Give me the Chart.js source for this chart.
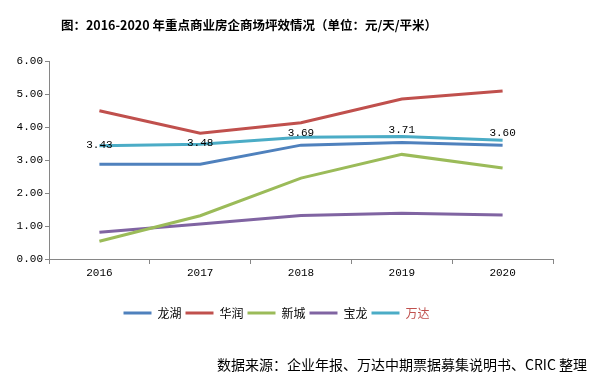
<!DOCTYPE html>
<html>
<head>
<meta charset="utf-8">
<script src="https://cdn.jsdelivr.net/npm/chart.js@4/dist/chart.umd.min.js"></script>
<style>
  body { margin: 0; background: #fff; }
  #wrap { width: 590px; height: 377px; position: relative; }
</style>
</head>
<body>
<div id="wrap"><canvas id="pingxiao-chart" width="590" height="377"></canvas></div>
<script>
const years = ["2016", "2017", "2018", "2019", "2020"];
const longhu = [2.87, 2.87, 3.45, 3.53, 3.45];
const huarun = [4.49, 3.81, 4.13, 4.85, 5.09];
const xincheng = [0.54, 1.31, 2.45, 3.17, 2.76];
const baolong = [0.81, 1.06, 1.32, 1.39, 1.33];
const wanda = [3.43, 3.48, 3.69, 3.71, 3.60];

const titleText = "图：2016-2020 年重点商业房企商场坪效情况（单位：元/天/平米）";
const sourceText = "数据来源：企业年报、万达中期票据募集说明书、CRIC 整理";

const monoFont = "'Liberation Mono', 'DejaVu Sans Mono', monospace";
const cjkFont = "'Noto Sans CJK SC', sans-serif";

// title, source note and the 万达 value labels
const notes = {
  id: "notes",
  afterDraw(chart) {
    const ctx = chart.ctx;
    ctx.save();
    ctx.fillStyle = "#000";
    ctx.textBaseline = "middle";
    ctx.font = "bold 12.5px " + cjkFont;
    ctx.textAlign = "center";
    ctx.fillText(titleText, 249, 25);
    ctx.font = "14px " + cjkFont;
    ctx.textAlign = "right";
    ctx.fillText(sourceText, 587, 365);

    const meta = chart.getDatasetMeta(4);
    const lift = [-1, -1, -4, -6, -7];
    ctx.font = "11px " + monoFont;
    ctx.textAlign = "center";
    meta.data.forEach((pt, i) => {
      ctx.fillText(wanda[i].toFixed(2), pt.x, pt.y + lift[i]);
    });
    ctx.restore();
  }
};

function line(label, data, color) {
  return {
    label: label,
    data: data,
    borderColor: color,
    backgroundColor: color,
    borderWidth: 3,
    pointRadius: 0,
    tension: 0,
  };
}

new Chart(document.getElementById("pingxiao-chart"), {
  type: "line",
  data: {
    labels: years,
    datasets: [
      line("龙湖", longhu, "#4F81BD"),
      line("华润", huarun, "#C0504D"),
      line("新城", xincheng, "#9BBB59"),
      line("宝龙", baolong, "#8064A2"),
      line("万达", wanda, "#4BACC6"),
    ],
  },
  plugins: [notes],
  options: {
    responsive: false,
    animation: false,
    devicePixelRatio: 1,
    layout: { padding: { top: 61, right: 37, bottom: 48, left: 0 } },
    plugins: {
      tooltip: { enabled: false },
      legend: {
        position: "bottom",
        labels: {
          boxWidth: 28,
          boxHeight: 3,
          padding: 4,
          color: "#000",
          font: { family: cjkFont, size: 12 },
          generateLabels(chart) {
            const items = Chart.defaults.plugins.legend.labels.generateLabels(chart);
            items.forEach((it) => {
              it.lineWidth = 0;
              it.fontColor = it.text === "万达" ? "#C0504D" : "#000";
            });
            return items;
          },
        },
      },
    },
    scales: {
      x: {
        offset: true,
        grid: { display: true, drawOnChartArea: false, offset: true, tickLength: 5, color: "#868686" },
        border: { color: "#868686" },
        ticks: { color: "#000", font: { family: monoFont, size: 11 }, padding: 2 },
        afterFit(scale) { scale.height = 44; },
      },
      y: {
        min: 0,
        max: 6,
        grid: { display: true, drawOnChartArea: false, tickLength: 4, color: "#868686" },
        border: { color: "#868686" },
        ticks: {
          stepSize: 1,
          color: "#000",
          padding: 2,
          font: { family: monoFont, size: 11 },
          callback: (v) => v.toFixed(2),
        },
        afterFit(scale) { scale.width = 49; },
      },
    },
  },
});
</script>
</body>
</html>
